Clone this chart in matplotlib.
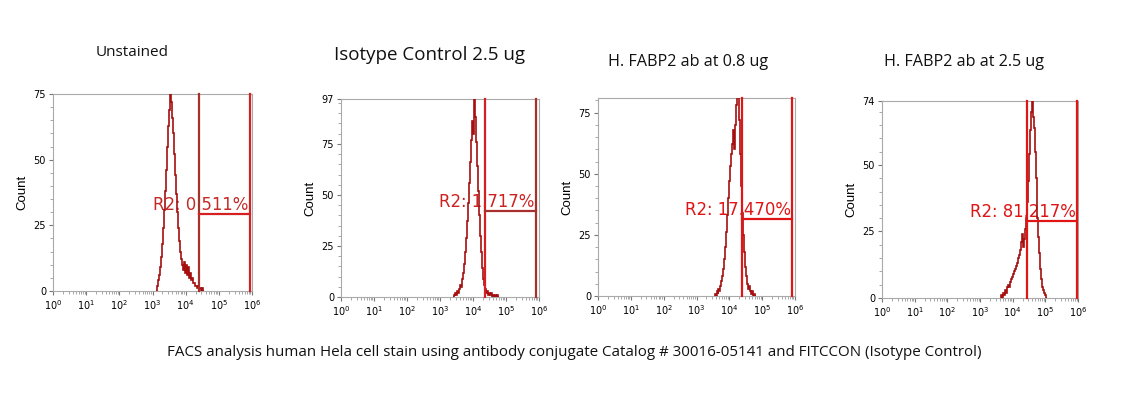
import numpy as np
import matplotlib
matplotlib.use('Agg')
import matplotlib.pyplot as plt
from matplotlib.ticker import LogLocator, MultipleLocator, FixedLocator

# Panel titles and region stats
titles = ['Unstained', 'Isotype Control 2.5 ug', 'H. FABP2 ab at 0.8 ug', 'H. FABP2 ab at 2.5 ug']
r2_labels = ['R2: 0.511%', 'R2: 1.717%', 'R2: 17.470%', 'R2: 81.217%']
y_max = [75, 97, 81, 74]
y_ticks = [[0, 25, 50, 75], [0, 25, 50, 75, 97], [0, 25, 50, 75], [0, 25, 50, 74]]

# Gate (log10 of left/right edge) and gate height in counts
gate_left = [4.39, 4.36, 4.39, 4.44]
gate_right = [5.94, 5.91, 5.91, 5.97]
gate_level = [29.3, 42, 31.6, 28.9]

# Histograms: start (log10) of the first bin, bin width 0.03 decades
hist_start = [3.10, 3.40, 3.55, 3.65]
unstained = [0, 2, 4, 6, 9, 13, 18, 24, 31, 38, 46, 55, 63, 69, 75, 72, 66, 60, 52, 44,
             37, 30, 24, 19, 15, 12, 10, 8, 11, 7, 10, 6, 9, 5, 7, 4, 5, 3, 3, 2,
             2, 1, 2, 1, 1, 0, 1, 0]
isotype = [0, 1, 2, 1, 3, 2, 4, 6, 5, 9, 12, 16, 22, 29, 37, 46, 56, 66, 77, 86,
           80, 97, 88, 76, 64, 52, 40, 30, 22, 14, 9, 6, 4, 2, 3, 1, 2, 1, 2, 0,
           1, 0, 1, 0, 1, 0]
fabp2_08 = [1, 0, 2, 1, 3, 2, 4, 6, 8, 11, 15, 20, 26, 33, 40, 47, 53, 58, 62, 68,
            60, 70, 78, 85, 83, 72, 58, 45, 34, 25, 18, 12, 8, 5, 3, 4, 2, 1, 2, 0,
            1, 0]
fabp2_25 = [1, 0, 2, 1, 3, 2, 4, 5, 4, 6, 7, 8, 9, 10, 11, 12, 13, 15, 16, 18,
            21, 24, 19, 22, 26, 30, 36, 44, 54, 63, 70, 74, 68, 64, 55, 45, 37, 30, 23, 17,
            11, 7, 4, 3, 2, 1, 0]
hists = [unstained, isotype, fabp2_08, fabp2_25]

W, H = 1144, 397
boxes = [(53, 94, 252, 291), (341, 99, 539, 297), (598, 98, 795, 296), (882, 101, 1078, 298)]
title_pos = [(132, 52, 11), (429, 55, 13.5), (688, 62, 11.6), (964, 62, 11.6)]
gate_colors = [('#a8302c', '#d42020'), ('#d42020', '#a8302c'), ('#e01515', '#e01515'), ('#e01515', '#e01515')]
text_colors = ['#c42a26', '#cc2222', '#dd1515', '#dd1515']

fig = plt.figure(figsize=(W / 100, H / 100), dpi=100)

for i in range(4):
    l, t, r, b = boxes[i]
    ax = fig.add_axes([l / W, 1 - b / H, (r - l) / W, (b - t) / H])
    counts = hists[i]
    edges = hist_start[i] + 0.03 * np.arange(len(counts) + 1)
    ax.stairs(counts, 10 ** edges, color='#a50f0f', lw=1.2, zorder=3)

    # gate
    gl, gr, gy = 10 ** gate_left[i], 10 ** gate_right[i], gate_level[i]
    ax.plot([gl, gl], [0, y_max[i]], color=gate_colors[i][0], lw=1.6, zorder=4, clip_on=False)
    ax.plot([gr, gr], [0, y_max[i]], color=gate_colors[i][1], lw=1.6, zorder=4, clip_on=False)
    ax.plot([gl, gr], [gy, gy], color=gate_colors[i][1], lw=1.6, zorder=4)
    ax.annotate(r2_labels[i], (gr, gy), xytext=(-1, 0), textcoords='offset points',
                ha='right', va='bottom', color=text_colors[i], fontsize=11.9,
                family='DejaVu Sans', zorder=2)

    ax.set_xscale('log')
    ax.set_xlim(1, 1e6)
    ax.set_ylim(0, y_max[i])
    ax.xaxis.set_major_locator(LogLocator(base=10, numticks=10))
    ax.xaxis.set_minor_locator(LogLocator(base=10, subs=np.arange(2, 10), numticks=20))
    ax.yaxis.set_major_locator(FixedLocator(y_ticks[i]))
    ax.yaxis.set_minor_locator(MultipleLocator(5))
    ax.tick_params(axis='both', which='major', labelsize=7, length=3, color='#777777', pad=2)
    ax.tick_params(axis='both', which='minor', length=2, color='#999999')
    for s in ax.spines.values():
        s.set_color('#aaaaaa')
        s.set_linewidth(0.8)
    ax.set_ylabel('Count', fontsize=9.5, family='Liberation Sans', labelpad=4)

    x, y, fs = title_pos[i]
    fig.text(x / W, 1 - y / H, titles[i], ha='center', va='center', fontsize=fs,
             family='Open Sans', color='#111111')

fig.text(574 / W, 1 - 353 / H,
         'FACS analysis human Hela cell stain using antibody conjugate Catalog # 30016-05141 and FITCCON (Isotype Control)',
         ha='center', va='center', fontsize=10.9, family='Open Sans', color='#111111')

fig.savefig('out.png', dpi=100)
